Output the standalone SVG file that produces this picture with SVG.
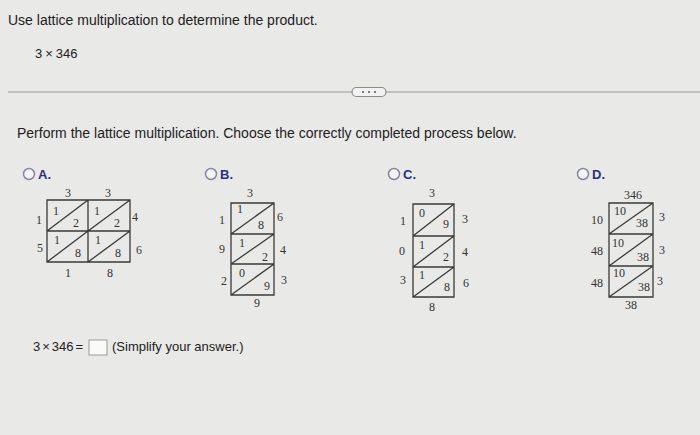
<svg xmlns="http://www.w3.org/2000/svg" width="700" height="435" viewBox="0 0 700 435">
<style>
.t{font-family:"Liberation Sans",Arial,sans-serif;fill:#222;}
.n{font-family:"Liberation Serif","Times New Roman",serif;font-size:12px;fill:#333;text-anchor:middle;}
.g{fill:none;stroke:#3a3a3a;stroke-width:1.3;}
.radio{fill:#f4f4f6;stroke:#8585a5;stroke-width:1.5;}
.opt{font-family:"Liberation Sans",Arial,sans-serif;font-size:13px;font-weight:bold;fill:#2b2f86;}
</style>
<rect width="700" height="435" fill="#e9e9e7"/>
<text class="t" x="8" y="25" font-size="14">Use lattice multiplication to determine the product.</text>
<text class="t" x="35" y="58" font-size="13">3<tspan dx="3">×</tspan><tspan dx="3">346</tspan></text>
<line x1="8" y1="92" x2="700" y2="92" stroke="#9a9a9a" stroke-width="1.2"/>
<rect x="352" y="87.5" width="34" height="9" rx="4.5" fill="#f2f2f2" stroke="#8a8a8a" stroke-width="1.2"/>
<circle cx="363" cy="92" r="1" fill="#555"/><circle cx="369" cy="92" r="1" fill="#555"/><circle cx="375" cy="92" r="1" fill="#555"/>
<text class="t" x="17" y="138" font-size="14">Perform the lattice multiplication. Choose the correctly completed process below.</text>

<g id="optA">
<circle class="radio" cx="29" cy="174" r="5.5"/>
<text class="opt" x="38" y="179">A.</text>
<path class="g" d="M47 200H130V262H47Z M88 200V262 M47 231H130 M47 231L88 200 M88 231L130 200 M47 262L88 231 M88 262L130 231"/>
<text class="n" x="68" y="197">3</text><text class="n" x="108" y="197">3</text>
<text class="n" x="39" y="224">1</text><text class="n" x="40" y="252">5</text>
<text class="n" x="135" y="221">4</text><text class="n" x="139" y="254">6</text>
<text class="n" x="68" y="277">1</text><text class="n" x="110" y="277">8</text>
<text class="n" x="56" y="215">1</text><text class="n" x="76" y="227">2</text>
<text class="n" x="97" y="215">1</text><text class="n" x="117" y="227">2</text>
<text class="n" x="57" y="244">1</text><text class="n" x="78" y="257">8</text>
<text class="n" x="98" y="244">1</text><text class="n" x="118" y="257">8</text>
</g>

<g id="optB">
<circle class="radio" cx="211" cy="174" r="5.5"/>
<text class="opt" x="220" y="179">B.</text>
<path class="g" d="M231 203H274V295H231Z M231 234H274 M231 264H274 M231 234L274 203 M231 264L274 234 M231 295L274 264"/>
<text class="n" x="250" y="197">3</text>
<text class="n" x="222" y="224">1</text><text class="n" x="222" y="253">9</text><text class="n" x="224" y="285">2</text>
<text class="n" x="280" y="221">6</text><text class="n" x="283" y="254">4</text><text class="n" x="284" y="284">3</text>
<text class="n" x="257" y="307">9</text>
<text class="n" x="240" y="213">1</text><text class="n" x="261" y="229">8</text>
<text class="n" x="242" y="247">1</text><text class="n" x="265" y="261">2</text>
<text class="n" x="242" y="277">0</text><text class="n" x="267" y="290">9</text>
</g>

<g id="optC">
<circle class="radio" cx="394" cy="174" r="5.5"/>
<text class="opt" x="403" y="179">C.</text>
<path class="g" d="M413 204H454V297H413Z M413 236H454 M413 267H454 M413 236L454 204 M413 267L454 236 M413 297L454 267"/>
<text class="n" x="432" y="197">3</text>
<text class="n" x="403" y="225">1</text><text class="n" x="402" y="255">0</text><text class="n" x="403" y="284">3</text>
<text class="n" x="465" y="223">3</text><text class="n" x="465" y="256">4</text><text class="n" x="466" y="287">6</text>
<text class="n" x="432" y="311">8</text>
<text class="n" x="422" y="217">0</text><text class="n" x="446" y="228">9</text>
<text class="n" x="422" y="249">1</text><text class="n" x="446" y="261">2</text>
<text class="n" x="422" y="279">1</text><text class="n" x="447" y="291">8</text>
</g>

<g id="optD">
<circle class="radio" cx="583" cy="174" r="5.5"/>
<text class="opt" x="592" y="179">D.</text>
<path class="g" d="M609 203H653V297H609Z M609 234H653 M609 266H653 M609 234L653 203 M609 266L653 234 M609 297L653 266"/>
<text class="n" x="633" y="199">346</text>
<text class="n" x="597" y="224">10</text><text class="n" x="597" y="255">48</text><text class="n" x="597" y="287">48</text>
<text class="n" x="662" y="221">3</text><text class="n" x="662" y="254">3</text><text class="n" x="660" y="285">3</text>
<text class="n" x="631" y="309">38</text>
<text class="n" x="620" y="215">10</text><text class="n" x="642" y="227">38</text>
<text class="n" x="618" y="247">10</text><text class="n" x="643" y="261">38</text>
<text class="n" x="619" y="277">10</text><text class="n" x="644" y="291">38</text>
</g>

<text class="t" x="33" y="351" font-size="13">3<tspan dx="2">×</tspan><tspan dx="2">346</tspan><tspan dx="2">=</tspan></text>
<rect x="89" y="340" width="18" height="15" fill="#fafafa" stroke="#9a9a9a" stroke-width="1"/>
<text class="t" x="112" y="351" font-size="13">(Simplify your answer.)</text>
</svg>
